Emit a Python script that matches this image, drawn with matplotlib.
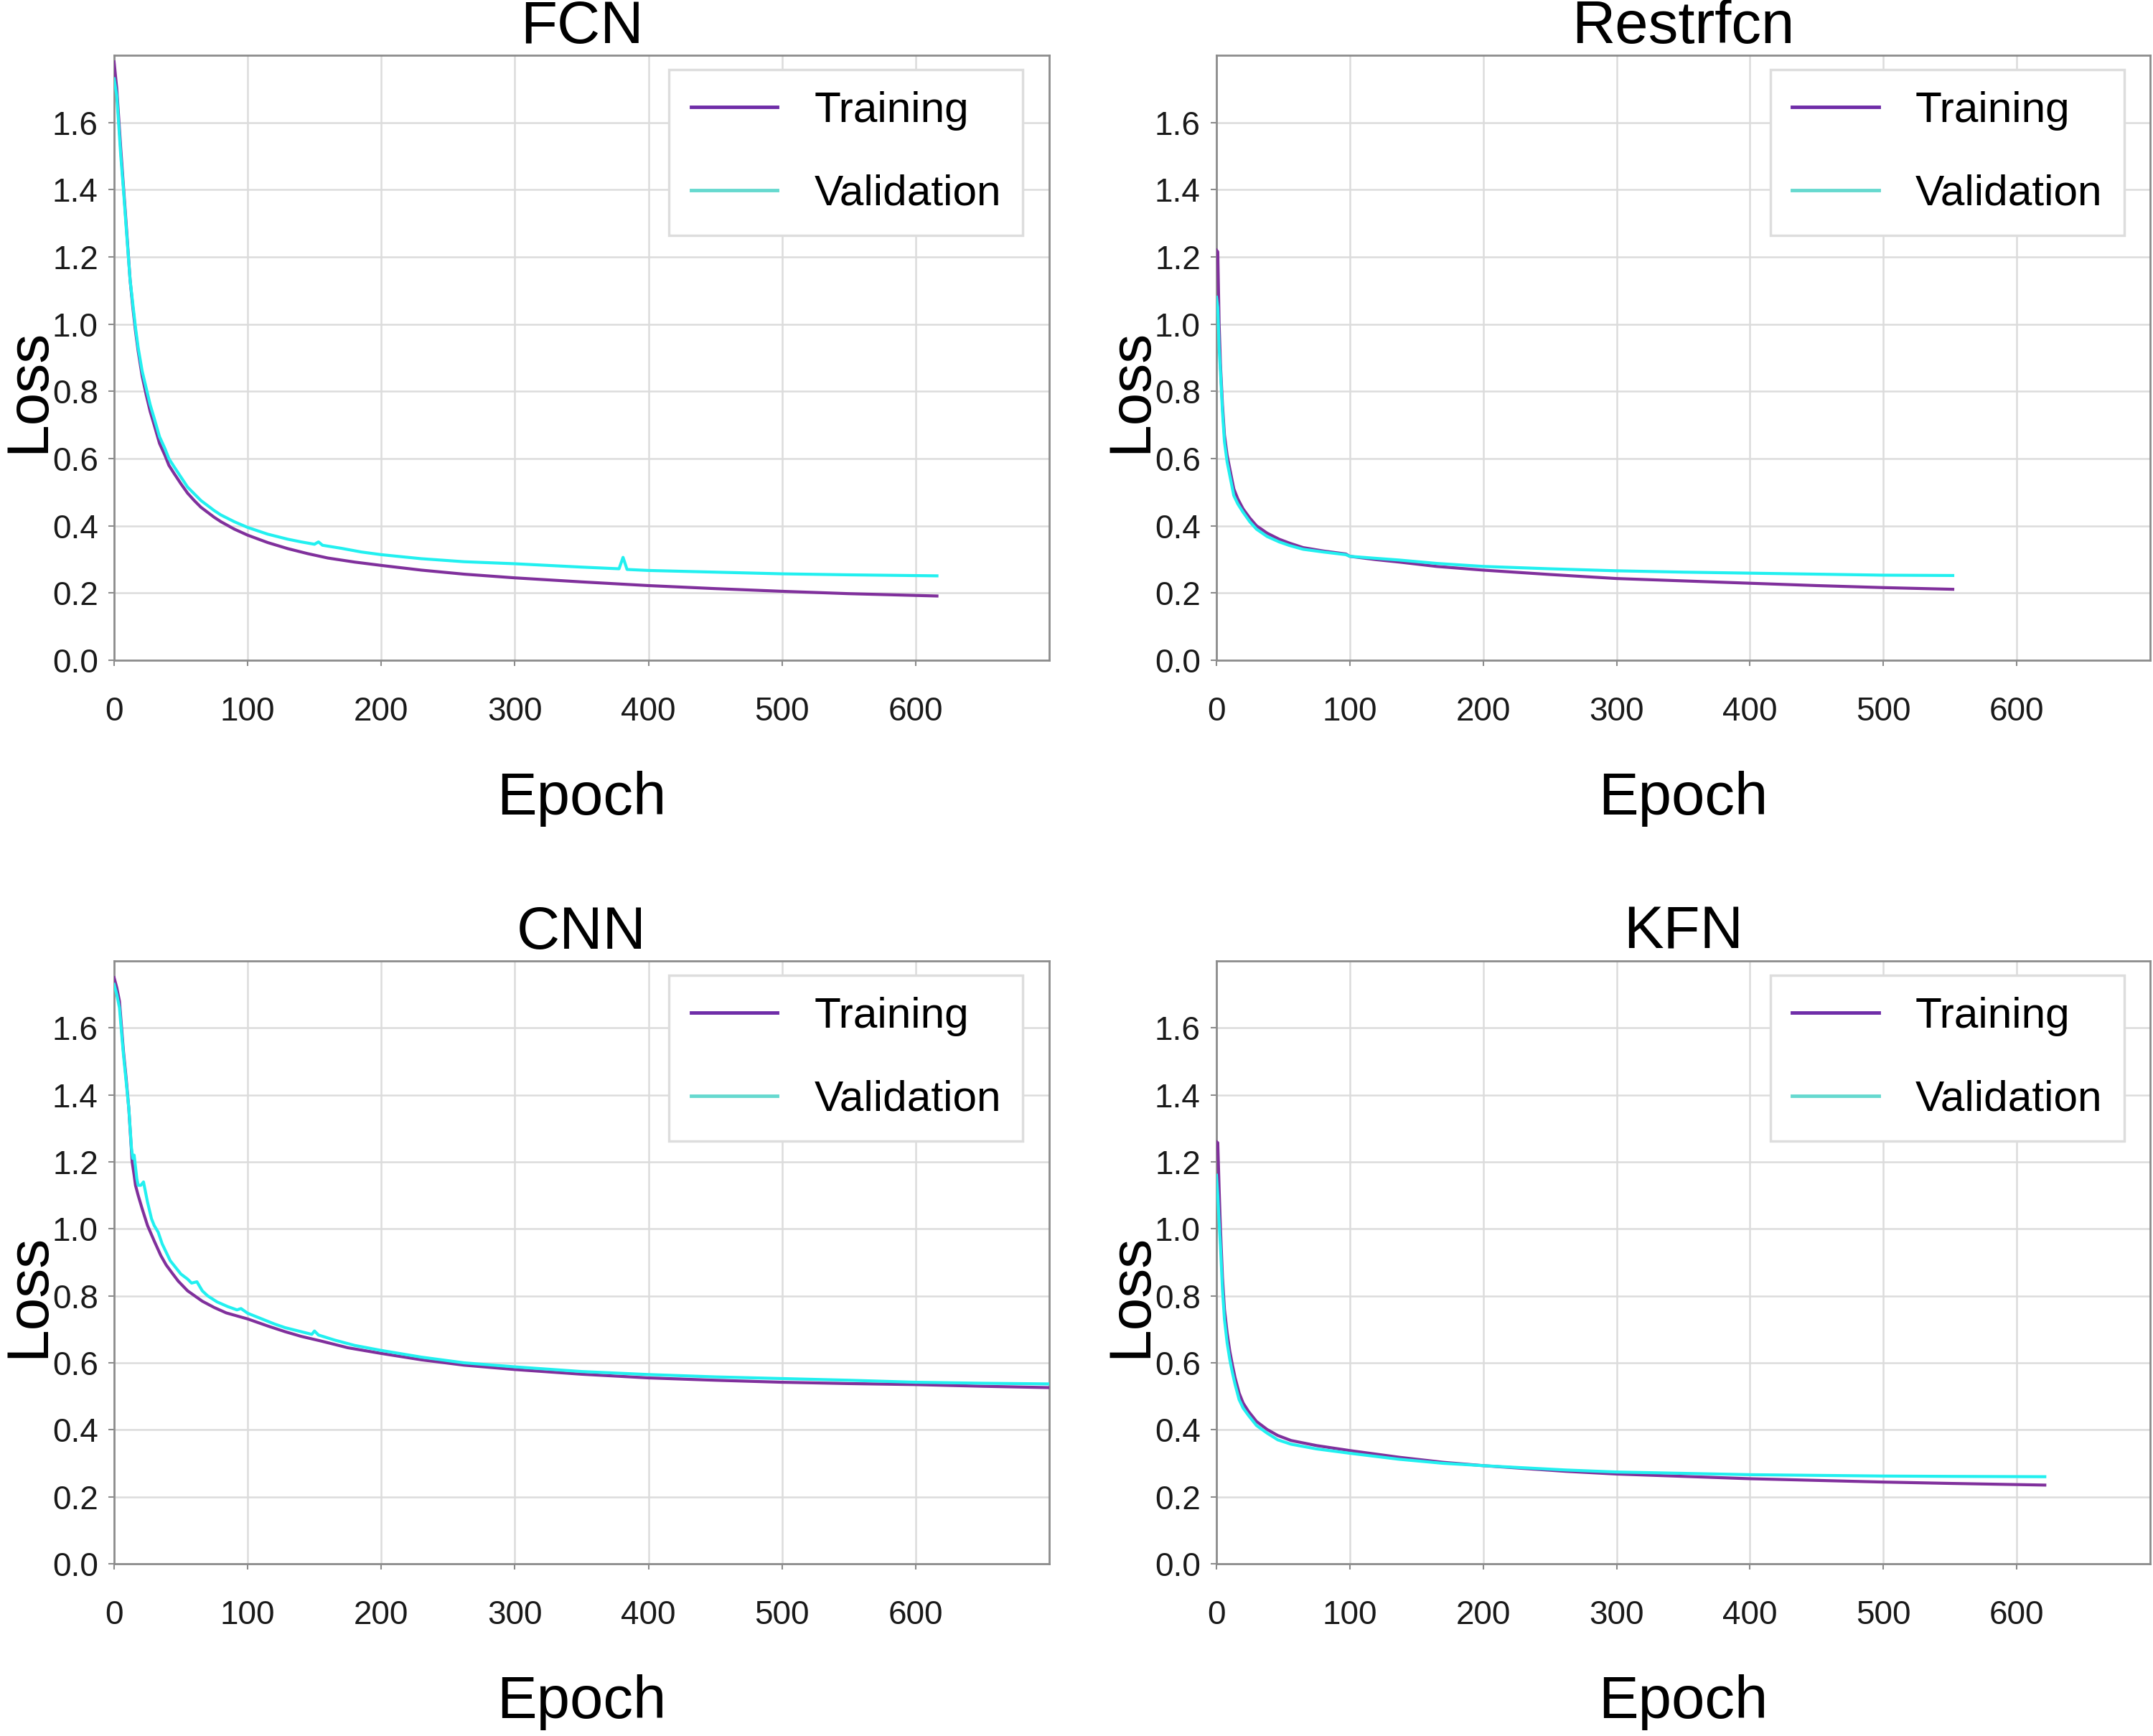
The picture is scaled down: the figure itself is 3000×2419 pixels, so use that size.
import matplotlib
matplotlib.use("Agg")
import matplotlib.pyplot as plt
from matplotlib.lines import Line2D

plt.rcParams['font.family'] = ['Liberation Sans', 'DejaVu Sans']

# ---- data (epoch, loss) ----
fcn_train_ep = [0, 2, 5, 7, 9, 12, 14, 16, 18, 21, 24, 27, 30, 34, 38, 41, 45, 50, 55, 60, 65, 70, 75, 80, 90, 100,
                115, 130, 145, 160, 180, 200, 230, 262, 300, 350, 400, 450, 500, 550, 616]
fcn_train = [1.78, 1.70, 1.52, 1.41, 1.30, 1.13, 1.05, 0.98, 0.92, 0.845, 0.79, 0.74, 0.70, 0.645, 0.61, 0.58, 0.555,
             0.525, 0.497, 0.475, 0.455, 0.44, 0.425, 0.412, 0.39, 0.372, 0.35, 0.332, 0.317, 0.304, 0.292, 0.282,
             0.268, 0.256, 0.245, 0.233, 0.222, 0.213, 0.205, 0.198, 0.191]
fcn_val_ep = [0, 2, 5, 7, 9, 12, 14, 16, 18, 21, 24, 27, 30, 34, 38, 41, 45, 50, 55, 60, 65, 70, 75, 80, 90, 100,
              115, 130, 140, 150, 153, 156, 170, 185, 200, 230, 262, 300, 350, 378, 381, 384, 400, 450, 500, 550, 616]
fcn_val = [1.73, 1.68, 1.50, 1.40, 1.29, 1.13, 1.06, 0.99, 0.93, 0.86, 0.81, 0.76, 0.72, 0.665, 0.63, 0.60, 0.575,
           0.545, 0.515, 0.495, 0.475, 0.46, 0.445, 0.432, 0.412, 0.395, 0.375, 0.36, 0.352, 0.345, 0.352, 0.342,
           0.333, 0.322, 0.314, 0.302, 0.293, 0.287, 0.277, 0.272, 0.306, 0.27, 0.267, 0.262, 0.257, 0.254, 0.251]

res_train_ep = [0, 1, 2, 3, 4.5, 6, 8, 10, 13, 16, 20, 25, 30, 38, 47, 55, 65, 80, 97, 100, 120, 137, 165, 200, 250,
                300, 350, 400, 450, 500, 552]
res_train = [1.22, 1.215, 1.00, 0.88, 0.76, 0.67, 0.61, 0.57, 0.51, 0.48, 0.45, 0.423, 0.40, 0.378, 0.36, 0.348,
             0.335, 0.325, 0.316, 0.309, 0.299, 0.292, 0.279, 0.268, 0.255, 0.243, 0.236, 0.229, 0.222, 0.216, 0.211]
res_val_ep = [0, 1, 2, 3, 4.5, 6, 8, 10, 13, 16, 20, 25, 30, 38, 47, 55, 65, 80, 97, 100, 120, 137, 165, 200, 250,
              300, 350, 400, 450, 500, 552]
res_val = [1.08, 1.05, 0.93, 0.86, 0.74, 0.65, 0.59, 0.55, 0.49, 0.465, 0.44, 0.412, 0.39, 0.368, 0.352, 0.341,
           0.33, 0.322, 0.314, 0.309, 0.303, 0.298, 0.288, 0.279, 0.272, 0.266, 0.262, 0.259, 0.256, 0.253, 0.252]

cnn_train_ep = [0, 2, 4, 7, 9, 11, 13.5, 15, 16, 18, 21, 25, 30, 35, 39, 44, 48, 55, 66, 75, 84, 100, 115, 128, 140,
                155, 175, 200, 230, 262, 300, 350, 400, 450, 500, 550, 600, 650, 700]
cnn_train = [1.75, 1.72, 1.68, 1.53, 1.45, 1.36, 1.20, 1.16, 1.13, 1.10, 1.06, 1.01, 0.964, 0.92, 0.892, 0.865,
             0.844, 0.815, 0.784, 0.765, 0.749, 0.731, 0.71, 0.693, 0.679, 0.665, 0.645, 0.628, 0.609, 0.593, 0.580,
             0.566, 0.555, 0.548, 0.542, 0.538, 0.535, 0.530, 0.526]
cnn_val_ep = [0, 2, 4, 7, 9, 11, 13, 14, 15, 17, 18, 20, 22, 25, 28, 30, 33, 36, 39, 42, 45, 50, 55, 58, 62, 66, 70,
              77, 85, 92, 95, 100, 110, 120, 128, 138, 148, 150, 153, 165, 180, 200, 230, 262, 300, 350, 400, 450,
              500, 550, 600, 650, 700]
cnn_val = [1.73, 1.70, 1.66, 1.52, 1.44, 1.36, 1.24, 1.21, 1.22, 1.15, 1.13, 1.13, 1.14, 1.08, 1.03, 1.01, 0.99,
           0.955, 0.93, 0.905, 0.89, 0.865, 0.85, 0.838, 0.842, 0.815, 0.80, 0.782, 0.768, 0.758, 0.762, 0.748,
           0.732, 0.716, 0.705, 0.695, 0.685, 0.695, 0.683, 0.668, 0.652, 0.637, 0.617, 0.600, 0.588, 0.574, 0.565,
           0.558, 0.553, 0.548, 0.542, 0.539, 0.537]

kfn_train_ep = [0, 1, 2, 3, 4.5, 6, 8, 10, 12, 14, 17, 20, 24, 30, 38, 46, 56, 75, 100, 137, 170, 200, 262, 300, 350,
                400, 450, 500, 550, 621]
kfn_train = [1.26, 1.257, 1.12, 1.00, 0.856, 0.76, 0.69, 0.635, 0.593, 0.555, 0.51, 0.48, 0.455, 0.425, 0.401, 0.383,
             0.368, 0.353, 0.338, 0.318, 0.303, 0.293, 0.276, 0.268, 0.261, 0.254, 0.249, 0.244, 0.240, 0.235]
kfn_val_ep = [0, 1, 2, 3, 4.5, 6, 8, 10, 12, 14, 17, 20, 24, 30, 38, 46, 56, 75, 100, 137, 170, 200, 262, 300, 350,
              400, 450, 500, 550, 621]
kfn_val = [1.16, 1.10, 1.02, 0.95, 0.82, 0.73, 0.66, 0.61, 0.57, 0.535, 0.49, 0.465, 0.443, 0.413, 0.39, 0.37, 0.357,
           0.343, 0.330, 0.312, 0.300, 0.293, 0.280, 0.274, 0.270, 0.266, 0.264, 0.262, 0.261, 0.260]

titles = ['FCN', 'Restrfcn', 'CNN', 'KFN']
x_ticks = [0, 100, 200, 300, 400, 500, 600]
y_ticks = [0.0, 0.2, 0.4, 0.6, 0.8, 1.0, 1.2, 1.4, 1.6]

series = [
    (fcn_train_ep, fcn_train, fcn_val_ep, fcn_val),
    (res_train_ep, res_train, res_val_ep, res_val),
    (cnn_train_ep, cnn_train, cnn_val_ep, cnn_val),
    (kfn_train_ep, kfn_train, kfn_val_ep, kfn_val),
]

# axes boxes in figure fractions [left, bottom, width, height]
boxes = [
    [0.053, 0.6197, 0.4343, 0.3485],
    [0.565, 0.6197, 0.4337, 0.3485],
    [0.053, 0.0992, 0.4343, 0.3473],
    [0.565, 0.0992, 0.4337, 0.3473],
]

train_c = '#80309c'
val_c = '#22f0f0'

fig = plt.figure(figsize=(30, 24.19), dpi=100)

for i in range(4):
    ax = fig.add_axes(boxes[i])
    tx, ty, vx, vy = series[i]
    ax.plot(tx, ty, color=train_c, lw=3.0, zorder=3)
    ax.plot(vx, vy, color=val_c, lw=3.0, zorder=3)

    ax.set_xlim(0, 700)
    ax.set_ylim(0, 1.8)
    ax.set_xticks(x_ticks)
    ax.set_yticks(y_ticks)
    ax.set_yticklabels(['%.1f' % v for v in y_ticks])
    ax.grid(True, color='#dcdcdc', lw=1.8, zorder=0)
    ax.set_axisbelow(True)
    for s in ax.spines.values():
        s.set_color('#8c8c8c')
        s.set_linewidth(2)
    ax.tick_params(axis='both', labelsize=33, colors='#8c8c8c', labelcolor='#1a1a1a',
                   length=6, width=1.5)
    ax.tick_params(axis='x', pad=30)
    ax.tick_params(axis='y', pad=10)

    ax.set_title(titles[i], fontsize=60, pad=12)
    ax.set_xlabel('Epoch', fontsize=60)
    ax.set_ylabel('Loss', fontsize=59)
    ax.xaxis.set_label_coords(0.5, -0.183)
    ax.yaxis.set_label_coords(-0.062, 0.445)

    handles = [Line2D([0], [0], color='#6f2da8', lw=3.5),
               Line2D([0], [0], color='#66d9cf', lw=3.5)]
    leg = ax.legend(handles, ['Training', 'Validation'], loc='upper right',
                    bbox_to_anchor=(0.972, 0.976), borderaxespad=0, fontsize=43.5,
                    frameon=True, fancybox=False, borderpad=0.5, labelspacing=1.0,
                    handlelength=2.0, handletextpad=0.85)
    leg.get_frame().set_edgecolor('#dddddd')
    leg.get_frame().set_linewidth(2.5)
    leg.get_frame().set_alpha(1.0)

fig.savefig('out.png', dpi=100)
